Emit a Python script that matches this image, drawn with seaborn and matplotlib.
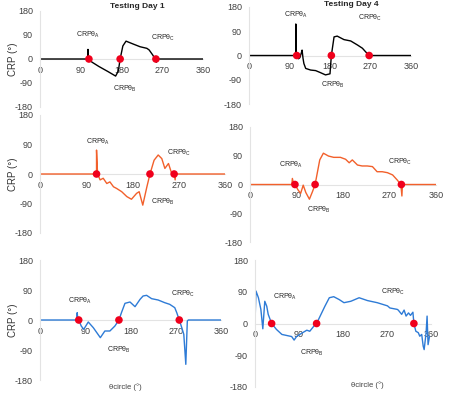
import matplotlib
matplotlib.use("Agg")
import matplotlib.pyplot as plt
import seaborn as sns

# ---- data (theta circle in deg, CRP in deg) ----
day1_black_x = [0, 105, 106, 106, 107, 108, 115, 130, 150, 163, 167, 173, 177, 183, 190, 206, 221, 236,
                241, 249, 254, 257, 259, 360]
day1_black_y = [0, 0, 0, 36, 0, -2, -12, -28, -47, -60, -64, -45, 0, 49, 67, 56, 46, 40, 34, 15, 0, -12, 0, 0]
day1_black_dots = [108, 177, 256]

day4_black_x = [0, 104, 104, 105, 107, 110, 113, 116, 118, 120, 122, 126, 137, 148, 158, 170, 180, 183,
                189, 196, 211, 226, 241, 252, 259, 267, 360]
day4_black_y = [0, 0, 117, 0, -5, -12, -8, 8, 20, -10, -30, -48, -54, -56, -63, -72, -68, 0, 69, 72, 59,
                54, 39, 27, 14, 0, 0]
day4_black_dots = [106, 183, 267]

day1_orange_x = [0, 110, 110, 112, 117, 123, 130, 136, 143, 149, 159, 169, 178, 188, 193, 200, 208, 214,
                 222, 230, 237, 243, 250, 256, 261, 263, 264, 360]
day1_orange_y = [0, 0, 73, 0, -18, -13, -29, -24, -39, -44, -54, -69, -77, -59, -54, -95, -39, 0, 42, 58,
                 47, 17, 32, 3, 0, -18, 0, 0]
day1_orange_dots = [110, 214, 261]

day4_orange_x = [0, 81, 82, 84, 87, 93, 98, 103, 108, 115, 121, 126, 135, 142, 152, 162, 175, 185, 192,
                 198, 208, 217, 227, 237, 246, 256, 266, 276, 285, 292, 294, 295, 360]
day4_orange_y = [0, 0, 19, 5, 0, -17, -28, -2, -25, -46, -22, 0, 77, 98, 89, 85, 85, 79, 68, 77, 61, 58,
                 58, 56, 40, 40, 37, 30, 14, 0, -36, 0, 0]
day4_orange_dots = [87, 126, 293]

day1_blue_x = [0, 73, 74, 75, 77, 82, 87, 96, 106, 113, 120, 129, 139, 149, 157, 162, 169, 179, 189, 199,
               205, 212, 222, 235, 248, 258, 268, 272, 277, 282, 286, 290, 293, 295, 360]
day1_blue_y = [0, 0, 22, 5, 0, -18, -28, -6, -23, -38, -53, -33, -33, -18, 0, 22, 50, 54, 40, 62, 72, 74,
               64, 60, 52, 47, 37, 22, 0, -23, -43, -133, -3, 0, 0]
day1_blue_dots = [77, 157, 277]

day4_blue_x = [0, 2, 7, 12, 16, 20, 24, 27, 34, 44, 55, 65, 75, 80, 85, 95, 106, 112, 123, 126, 143, 152,
               161, 172, 182, 196, 213, 230, 250, 271, 276, 291, 293, 300, 305, 309, 314, 318, 323, 325,
               329, 334, 337, 341, 344, 346, 350, 352, 354, 357]
day4_blue_y = [2, 92, 73, 40, -15, 63, 49, 26, 0, -17, -31, -34, -37, -47, -37, -28, -19, -22, -3, 0, 49,
               73, 76, 68, 59, 63, 73, 65, 59, 50, 44, 40, 38, 26, 38, 21, 30, 23, 32, 0, -22, -26, -36,
               -31, -64, -74, -26, 21, -60, -36]
day4_blue_dots = [34, 126, 325]

ticks = [0, 90, 180, 270, 360]
yticks = [-180, -90, 0, 90, 180]
titles = ['Testing Day 1', 'Testing Day 4']

sns.set_style('white')
plt.rcParams['font.family'] = ['Liberation Sans', 'DejaVu Sans']
plt.rcParams['mathtext.fontset'] = 'custom'
plt.rcParams['mathtext.rm'] = 'Liberation Sans'
plt.rcParams['axes.unicode_minus'] = False

W, H = 474, 395
fig = plt.figure(figsize=(W / 100, H / 100), dpi=100)

# pixel boxes: x at 0 deg, x at 360 deg, y at +180, y at -180
panels = [
    (day1_black_x, day1_black_y, day1_black_dots, 'black', (40, 203, 11, 107),
     [(106, 90), (188, -112), (272, 79)]),
    (day4_black_x, day4_black_y, day4_black_dots, 'black', (249, 411, 7, 104),
     [(104, 150), (186, -110), (269, 138)]),
    (day1_orange_x, day1_orange_y, day1_orange_dots, '#F2602B', (40, 225, 115, 233),
     [(112, 99), (239, -85), (270, 63)]),
    (day4_orange_x, day4_orange_y, day4_orange_dots, '#F2602B', (250, 436, 127, 242),
     [(79, 61), (134, -80), (291, 71)]),
    (day1_blue_x, day1_blue_y, day1_blue_dots, '#2E7BD6', (40, 221, 260, 380),
     [(80, 57), (157, -90), (285, 77)]),
    (day4_blue_x, day4_blue_y, day4_blue_dots, '#2E7BD6', (255, 431, 260, 387),
     [(61, 75), (117, -84), (282, 89)]),
]

for i, (xs, ys, dots, col, box, lab) in enumerate(panels):
    x0, x1, yt, yb = box
    ax = fig.add_axes([x0 / W, 1 - yb / H, (x1 - x0) / W, (yb - yt) / H])
    ax.patch.set_alpha(0)
    sns.lineplot(x=xs, y=ys, ax=ax, color=col, linewidth=1.0, estimator=None, sort=False)
    sns.scatterplot(x=dots, y=[0] * len(dots), ax=ax, color='#F0001C', s=30,
                    edgecolor='none', zorder=4)
    ax.set_xlim(0, 360)
    ax.set_ylim(-180, 180)
    ax.set_xticks(ticks)
    ax.set_yticks(yticks)
    ax.set_xlabel('')
    ax.set_ylabel('')
    for s in ['top', 'right']:
        ax.spines[s].set_visible(False)
    ax.spines['bottom'].set_position(('data', 0))
    ax.spines['bottom'].set_color('#E3E3E3')
    ax.spines['bottom'].set_zorder(0)
    ax.spines['left'].set_color('#E3E3E3')
    ax.tick_params(axis='both', length=0, labelsize=6.5, labelcolor='#404040')
    ax.tick_params(axis='x', pad=5)
    ax.tick_params(axis='y', pad=5)
    for (lx, ly), sub in zip(lab, ['A', 'B', 'C']):
        ax.text(lx, ly, 'CRPθ$_{\\mathregular{' + sub + '}}$', fontsize=5, color='#262626',
                ha='center', va='center')
    if i % 2 == 0:
        fig.text(13 / W, 1 - ((yt + yb) / 2) / H, 'CRP (°)', rotation=90, fontsize=7,
                 color='#333333', ha='center', va='center')

fig.text(137 / W, 1 - 7 / H, titles[0], fontsize=6, fontweight='bold', ha='center', va='center')
fig.text(351 / W, 1 - 5 / H, titles[1], fontsize=6, fontweight='bold', ha='center', va='center')
fig.text(125 / W, 1 - 387 / H, 'θcircle (°)', fontsize=5.5, color='#404040', ha='center', va='center')
fig.text(367 / W, 1 - 385 / H, 'θcircle (°)', fontsize=5.5, color='#404040', ha='center', va='center')

fig.savefig('out.png', dpi=100)
